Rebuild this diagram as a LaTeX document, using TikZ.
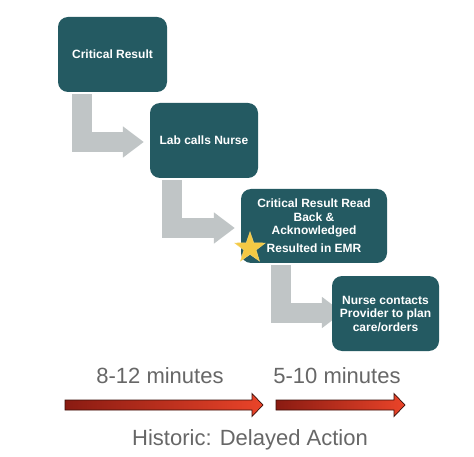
\documentclass[tikz,border=0pt]{standalone}
\usepackage{fontspec}
\setmainfont{Liberation Sans}
\usetikzlibrary{shapes.geometric,arrows.meta,backgrounds,calc}
\definecolor{teal}{HTML}{245A62}
\definecolor{arrgray}{HTML}{C0C5C6}
\definecolor{staryel}{HTML}{F4C944}
\definecolor{txtgray}{HTML}{676767}
\definecolor{reddark}{HTML}{8A1B12}
\definecolor{redbright}{HTML}{EA4429}
\definecolor{redline}{HTML}{3A0E08}
\tikzset{
  box/.style={rectangle, rounded corners=10pt, fill=teal, text=white,
    font=\bfseries\fontsize{12}{13.5}\selectfont, align=center, inner sep=2pt},
  flow/.style={draw=arrgray, line width=20pt, line join=miter,
    -{Triangle[width=30pt,length=21pt]}},
  minutes/.style={text=txtgray, font=\fontsize{22}{24}\selectfont, inner sep=0pt},
  redarrow/.style={left color=reddark, right color=redbright, draw=redline, line width=0.7pt, line join=miter}
}
\begin{document}
\begin{tikzpicture}[x=1pt,y=-1pt]
\useasboundingbox (0,0) rectangle (474,457);

\node[box, minimum width=109pt, minimum height=75pt] (b1) at (112.5,54.5) {Critical Result};
\node[box, minimum width=108pt, minimum height=75pt] (b2) at (204,140.5) {Lab calls Nurse};
\node[box, minimum width=146pt, minimum height=74pt] (b3) at (314,226)
  {Critical Result Read\\Back \&\\Acknowledged\\[4.5pt]Resulted in EMR};
\node[box, minimum width=107pt, minimum height=75pt] (b4) at (385.5,313.5)
  {Nurse contacts\\Provider to plan\\care/orders};
\node[star, star points=5, star point ratio=2.5, fill=staryel, draw=staryel!80!white,
  line width=0.5pt, minimum size=32pt, inner sep=0pt] (st) at (250,248) {};

\begin{scope}[on background layer]
  \fill[white] (0,0) rectangle (474,457);
  \draw[flow] ($(b1.south west)+(24,2)$) |- ($(b2.west)+(-6,1.5)$);
  \draw[flow] ($(b2.south west)+(22,2)$) |- ($(b3.west)+(-6,2)$);
  \draw[flow] ($(b3.south west)+(40.5,2)$) |- ($(b4.west)+(11,-1)$);
\end{scope}

\node[minutes] (m1) at (160,376) {8-12 minutes};
\node[minutes] (m2) at (337,376) {5-10 minutes};
\node[minutes] (hist) at (250,440) {Historic: Delayed Action};

\shade[redarrow] (65,400) -- (252,400) -- (252,393.5) -- (263,405) -- (252,416.5)
  -- (252,410) -- (65,410) -- cycle;
\shade[redarrow] (276,400) -- (394,400) -- (394,393.5) -- (405,405) -- (394,416.5)
  -- (394,410) -- (276,410) -- cycle;
\end{tikzpicture}
\end{document}
